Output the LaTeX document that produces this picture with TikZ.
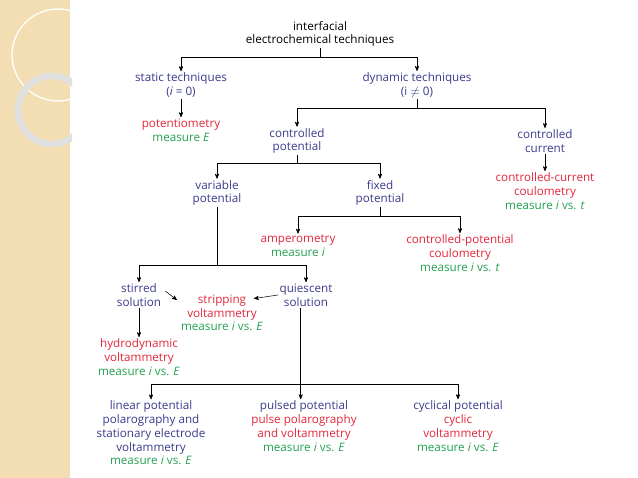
\documentclass[tikz,border=0pt]{standalone}
\usepackage{fontspec}
\setmainfont{Open Sans}
\usetikzlibrary{arrows,positioning,calc}
\definecolor{tblue}{RGB}{58,58,140}
\definecolor{tred}{RGB}{226,38,58}
\definecolor{tgreen}{RGB}{34,160,80}
\definecolor{beige}{RGB}{242,222,178}
\tikzset{
    tech/.style={
        align=center,
        text=tblue,
        inner sep=1pt,
        font=\fontsize{8.8}{10.4}\selectfont,
    },
    meth/.style={
        align=center,
        text=tred,
        inner sep=1pt,
        font=\fontsize{8.8}{10.4}\selectfont,
    },
}
\newcommand{\meas}[1]{\textcolor{tgreen}{measure #1}}
\begin{document}
\begin{tikzpicture}[x=0.0265cm,y=-0.0265cm,>=stealth',thin]
	    \useasboundingbox (0,0) rectangle (638,478);
	    % side strip
	    \fill[beige] (0,0) rectangle (70,478);
	    \begin{scope}
	    \clip (0,0) rectangle (72,478);
	    \draw[white,line width=1pt] (58,55) circle (46);
	    \draw[black!12,line width=5pt] (52,110) circle (34);
	    \end{scope}
	    \node [tech,text=black] (title) at (320,34) {interfacial\\electrochemical techniques};
	    \node [tech] (static) at (181,85) {static techniques\\(\textit{i} = 0)};
	    \node [tech] (dynamic) at (417,85) {dynamic techniques\\(i $\neq$ 0)};
	    \node [meth] (potm) at (181,130) {potentiometry\\\meas{\textit{E}}};
	    \node [tech] (cpot) at (297,141) {controlled\\potential};
	    \node [tech] (ccur) at (545,141) {controlled\\current};
	    \node [meth] (ccc) at (545,191) {controlled-current\\coulometry\\\meas{\textit{i} vs. \textit{t}}};
	    \node [tech] (vpot) at (217,193) {variable\\potential};
	    \node [tech] (fpot) at (380,193) {fixed\\potential};
	    \node [meth] (amp) at (298,246) {amperometry\\\meas{\textit{i}}};
	    \node [meth] (cpc) at (460,253) {controlled-potential\\coulometry\\\meas{\textit{i} vs. \textit{t}}};
	    \node [tech] (stir) at (139,295) {stirred\\solution};
	    \node [tech] (quie) at (306,295) {quiescent\\solution};
	    \node [meth] (strip) at (222,313) {stripping\\voltammetry\\\meas{\textit{i} vs. \textit{E}}};
	    \node [meth] (hydro) at (139,357) {hydrodynamic\\voltammetry\\\meas{\textit{i} vs. \textit{E}}};
	    \node [tech] (lin) at (151,433) {linear potential\\polarography and\\stationary electrode\\voltammetry\\\meas{\textit{i} vs. \textit{E}}};
	    \node [tech] (puls) at (304,426) {pulsed potential\\\textcolor{tred}{pulse polarography}\\\textcolor{tred}{and voltammetry}\\\meas{\textit{i} vs. \textit{E}}};
	    \node [tech] (cyc) at (458,426) {cyclical potential\\\textcolor{tred}{cyclic}\\\textcolor{tred}{voltammetry}\\\meas{\textit{i} vs. \textit{E}}};
	    % tree
	    \draw (title.south) -- ++(0,9) coordinate (t1);
	    \draw[->] (t1) -| (static);
	    \draw[->] (t1) -| (dynamic);
	    \draw[->] (static) -- (potm);
	    \draw (dynamic.south) -- ++(0,9) coordinate (t2);
	    \draw[->] (t2) -| (cpot);
	    \draw[->] (t2) -| (ccur);
	    \draw[->] (ccur) -- (ccc);
	    \draw (cpot.south) -- ++(0,8) coordinate (t3);
	    \draw[->] (t3) -| (vpot);
	    \draw[->] (t3) -| (fpot);
	    \draw (fpot.south) -- ++(0,9) coordinate (t4);
	    \draw[->] (t4) -| (amp);
	    \draw[->] (t4) -| (cpc);
	    \draw (vpot.south) -- ++(0,58) coordinate (t5);
	    \draw[->] (t5) -| (stir);
	    \draw[->] (t5) -| (quie);
	    \draw[->] ([xshift=2pt,yshift=3pt]stir.east) -- ([xshift=-2pt,yshift=-5pt]strip.north west);
	    \draw[->] (quie.west) -- ([yshift=-4pt,xshift=-8pt]strip.north east);
	    \draw[->] (stir) -- (hydro);
	    \draw ([xshift=-4]quie.south) -- ++(0,76) coordinate (t6);
	    \draw[->] (t6) -| (lin);
	    \draw[->] (t6) -- (t6 |- puls.north);
	    \draw[->] (t6) -| (cyc);
\end{tikzpicture}
\end{document}
